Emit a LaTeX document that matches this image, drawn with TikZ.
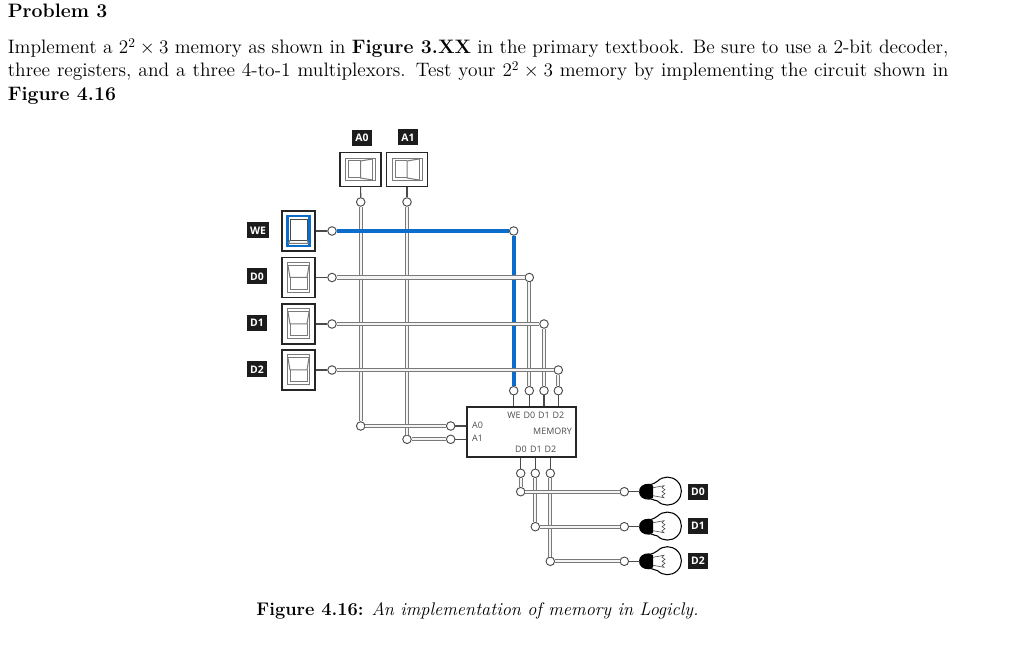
\documentclass[tikz,border=0pt]{standalone}
\usepackage{fontspec}
\newfontfamily\labelfont{Open Sans}
\definecolor{wiredark}{HTML}{4A4A4A}
\definecolor{wirelite}{HTML}{F4F4F4}
\definecolor{swgray}{HTML}{7A7A7A}
\definecolor{activeblue}{HTML}{0A6CCB}
\definecolor{boxblack}{HTML}{1C1C1C}
\newcommand{\bodyfont}{\fontsize{14.6}{17}\selectfont}
\newcommand{\capfont}{\fontsize{13.7}{16}\selectfont}
\tikzset{
  px/.style={x=0.75pt,y=-0.75pt},
  pin/.style={circle,draw=wiredark,fill=white,line width=.7pt,inner sep=0pt,minimum size=6.4pt},
  wire/.style={draw=swgray,line width=.75pt,double=wirelite,double distance=1.7pt},
  livewire/.style={draw=activeblue,line width=3pt},
  stem/.style={draw=wiredark,line width=.9pt},
  swbox/.style={draw=black!85,line width=.9pt,fill=white,inner sep=0pt},
  vsw/.style={swbox,minimum width=24.75pt,minimum height=30pt},
  hsw/.style={swbox,minimum width=30.75pt,minimum height=25pt},
  tag/.style={fill=boxblack,text=white,inner sep=0pt,minimum width=15pt,minimum height=12pt,font=\labelfont\bfseries\fontsize{7.8}{8}\selectfont},
  memtxt/.style={text=black!70,inner sep=0pt,font=\labelfont\fontsize{6.7}{7}\selectfont},
  para/.style={anchor=base west,inner sep=0pt,font=\bodyfont},
  rockerline/.style={draw=swgray,line width=.75pt}
}
\newcommand{\rockeroff}{%
  \draw[rockerline] (-11,-15) rectangle (11,15);
  \draw[rockerline] (-11,-12) -- (11,-12);
  \draw[rockerline] (-10.5,-12) -- (-8.5,0) -- (8.5,0) -- (10.5,-12);
  \draw[rockerline] (-8.5,0) -- (-8.5,12) -- (8.5,12) -- (8.5,0);
}
\newcommand{\rockeron}{%
  \draw[activeblue,line width=1.9pt] (-11,-15) rectangle (11,15);
  \draw[swgray!60!black,line width=.7pt] (-8.5,-12) -- (8.5,-12) -- (8.5,9) -- (-8.5,9) -- cycle;
  \draw[rockerline] (-8.5,9) -- (-10,12.5) -- (10,12.5) -- (8.5,9);
}
\newcommand{\bulbshape}[1]{%
  \begin{scope}[shift={(#1)}]
    \draw[black,line width=.8pt,fill=white] (-17,-7) .. controls (-13,-8) and (-12,-9) .. (-9.5,-10.5)
      arc[start angle=-135,end angle=135,radius=14] .. controls (-12,9) and (-13,8) .. (-17,7) -- cycle;
    \fill[black] (-18,-8) .. controls (-24,-8) and (-28,-5) .. (-28,0) .. controls (-28,5) and (-24,8) .. (-18,8)
      -- (-14,6) -- (-14,-6) -- cycle;
    \draw[swgray!60!black,line width=.45pt] (-14,-4) -- (-3,-6) -- (-5,-4) -- (-2,-2) -- (-5,0) -- (-2,2) -- (-5,4) -- (-3,6) -- (-14,4);
  \end{scope}
}
\begin{document}
\begin{tikzpicture}[px]
\useasboundingbox (0,0) rectangle (1024,655);
\node[para] (title) at (7.5,18) {\textbf{Problem 3}};
\node[para] (l1) at (7.5,54) {\hbox to 705.5pt{Implement a $2^2\times 3$ memory as shown in \textbf{Figure 3.XX} in the primary textbook. Be sure to use a 2-bit decoder,}};
\node[para] (l2) at (7.5,77) {\hbox to 705.5pt{three registers, and a three 4-to-1 multiplexors. Test your $2^2\times 3$ memory by implementing the circuit shown in}};
\node[para] (l3) at (7.5,101) {\textbf{Figure 4.16}};
\node[anchor=base,inner sep=0pt,font=\capfont] (cap) at (477.5,615) {\textbf{Figure 4.16:} \textit{An implementation of memory in Logicly.}};
\node[hsw] (swa0) at (360.5,169.5) {};
\node[hsw] (swa1) at (407,169.5) {};
\node[vsw] (swwe) at (298.5,231) {};
\node[vsw] (swd0) at (298.5,277.5) {};
\node[vsw] (swd1) at (298.5,324) {};
\node[vsw] (swd2) at (298.5,370) {};
\begin{scope}[shift={(swa0.center)},x={(0,.75pt)},y={(-.75pt,0)}]\rockeroff\end{scope}
\begin{scope}[shift={(swa1.center)},x={(0,.75pt)},y={(-.75pt,0)}]\rockeroff\end{scope}
\begin{scope}[shift={(swwe.center)}]\rockeron\end{scope}
\begin{scope}[shift={(swd0.center)}]\rockeroff\end{scope}
\begin{scope}[shift={(swd1.center)}]\rockeroff\end{scope}
\begin{scope}[shift={(swd2.center)}]\rockeroff\end{scope}
\node[tag] (ta0) at (362,138) {A0};
\node[tag] (ta1) at (408,137.5) {A1};
\node[tag,minimum width=16.5pt] (twe) at (258,230.5) {WE};
\node[tag] (td0) at (257,276.5) {D0};
\node[tag] (td1) at (257,323) {D1};
\node[tag] (td2) at (257,369.5) {D2};
\node[tag] (to0) at (698,491.5) {D0};
\node[tag] (to1) at (698,525.5) {D1};
\node[tag] (to2) at (698,560.5) {D2};
\node[draw=black!85,line width=.9pt,fill=white,inner sep=0pt,minimum width=81.75pt,minimum height=37.5pt] (mem) at (521.5,432) {};
\node[memtxt] (mwe) at (514,415) {WE};
\node[memtxt] (md0) at (529.5,415) {D0};
\node[memtxt] (md1) at (544,415) {D1};
\node[memtxt] (md2) at (558.5,415) {D2};
\node[memtxt] (mlabel) at (552.5,431) {MEMORY};
\node[memtxt] (ma0) at (477.5,425) {A0};
\node[memtxt] (ma1) at (477.5,438) {A1};
\node[memtxt] (mo0) at (521,449) {D0};
\node[memtxt] (mo1) at (536,449) {D1};
\node[memtxt] (mo2) at (550.5,449) {D2};
\node[pin] (a0top) at (360.7,202) {};
\node[pin] (a1top) at (407,202) {};
\node[pin] (a0low) at (360.7,426) {};
\node[pin] (a1low) at (407,439.3) {};
\node[pin] (a0in) at (450.7,426) {};
\node[pin] (a1in) at (450.7,439.3) {};
\node[pin] (wel) at (332,231) {};
\node[pin] (d0l) at (332,277.5) {};
\node[pin] (d1l) at (332,324) {};
\node[pin] (d2l) at (332,370) {};
\node[pin] (wer) at (513.7,231) {};
\node[pin] (d0r) at (529.3,277.5) {};
\node[pin] (d1r) at (544,324) {};
\node[pin] (d2r) at (558.3,370) {};
\node[pin] (wein) at (513.7,390.7) {};
\node[pin] (d0in) at (529.3,390.7) {};
\node[pin] (d1in) at (544,390.7) {};
\node[pin] (d2in) at (558.3,390.7) {};
\node[pin] (o0t) at (520.7,473.3) {};
\node[pin] (o1t) at (535.3,473.3) {};
\node[pin] (o2t) at (550.3,473.3) {};
\node[pin] (o0m) at (520.7,491.7) {};
\node[pin] (o1m) at (535.3,526.7) {};
\node[pin] (o2m) at (550.3,561.3) {};
\node[pin] (o0r) at (624.3,491.7) {};
\node[pin] (o1r) at (624.3,526.7) {};
\node[pin] (o2r) at (624.3,561.3) {};
\coordinate (b0) at (667,491.7);
\coordinate (b1) at (667,526.7);
\coordinate (b2) at (667,561.3);
\bulbshape{b0}\bulbshape{b1}\bulbshape{b2}
\coordinate (b0in) at (640,491.7);
\coordinate (b1in) at (640,526.7);
\coordinate (b2in) at (640,561.3);
\draw[wire] (a0top) -- (a0low);
\draw[wire] (a1top) -- (a1low);
\draw[wire] (o1t) -- (o1m);
\draw[wire] (o2t) -- (o2m);
\draw[wire] (o0t) -- (o0m);
\draw[wire] (d0r) -- (d0in);
\draw[wire] (d1r) -- (d1in);
\draw[wire] (d2r) -- (d2in);
\draw[livewire] (wer) -- (wein);
\draw[wire] (d0l) -- (d0r);
\draw[wire] (d1l) -- (d1r);
\draw[wire] (d2l) -- (d2r);
\draw[livewire] (wel) -- (wer);
\draw[wire] (a0low) -- (a0in);
\draw[wire] (a1low) -- (a1in);
\draw[wire] (o0m) -- (o0r);
\draw[wire] (o1m) -- (o1r);
\draw[wire] (o2m) -- (o2r);
\draw[stem] (swa0) -- (a0top);
\draw[stem] (swa1) -- (a1top);
\draw[stem] (swwe) -- (wel);
\draw[stem] (swd0) -- (d0l);
\draw[stem] (swd1) -- (d1l);
\draw[stem] (swd2) -- (d2l);
\draw[stem] (a0in) -- (a0in -| mem.west);
\draw[stem] (a1in) -- (a1in -| mem.west);
\draw[stem] (wein) -- (wein |- mem.north);
\draw[stem] (d0in) -- (d0in |- mem.north);
\draw[stem] (d1in) -- (d1in |- mem.north);
\draw[stem] (d2in) -- (d2in |- mem.north);
\draw[stem] (o0t) -- (o0t |- mem.south);
\draw[stem] (o1t) -- (o1t |- mem.south);
\draw[stem] (o2t) -- (o2t |- mem.south);
\draw[stem] (o0r) -- (b0in);
\draw[stem] (o1r) -- (b1in);
\draw[stem] (o2r) -- (b2in);
\end{tikzpicture}
\end{document}
